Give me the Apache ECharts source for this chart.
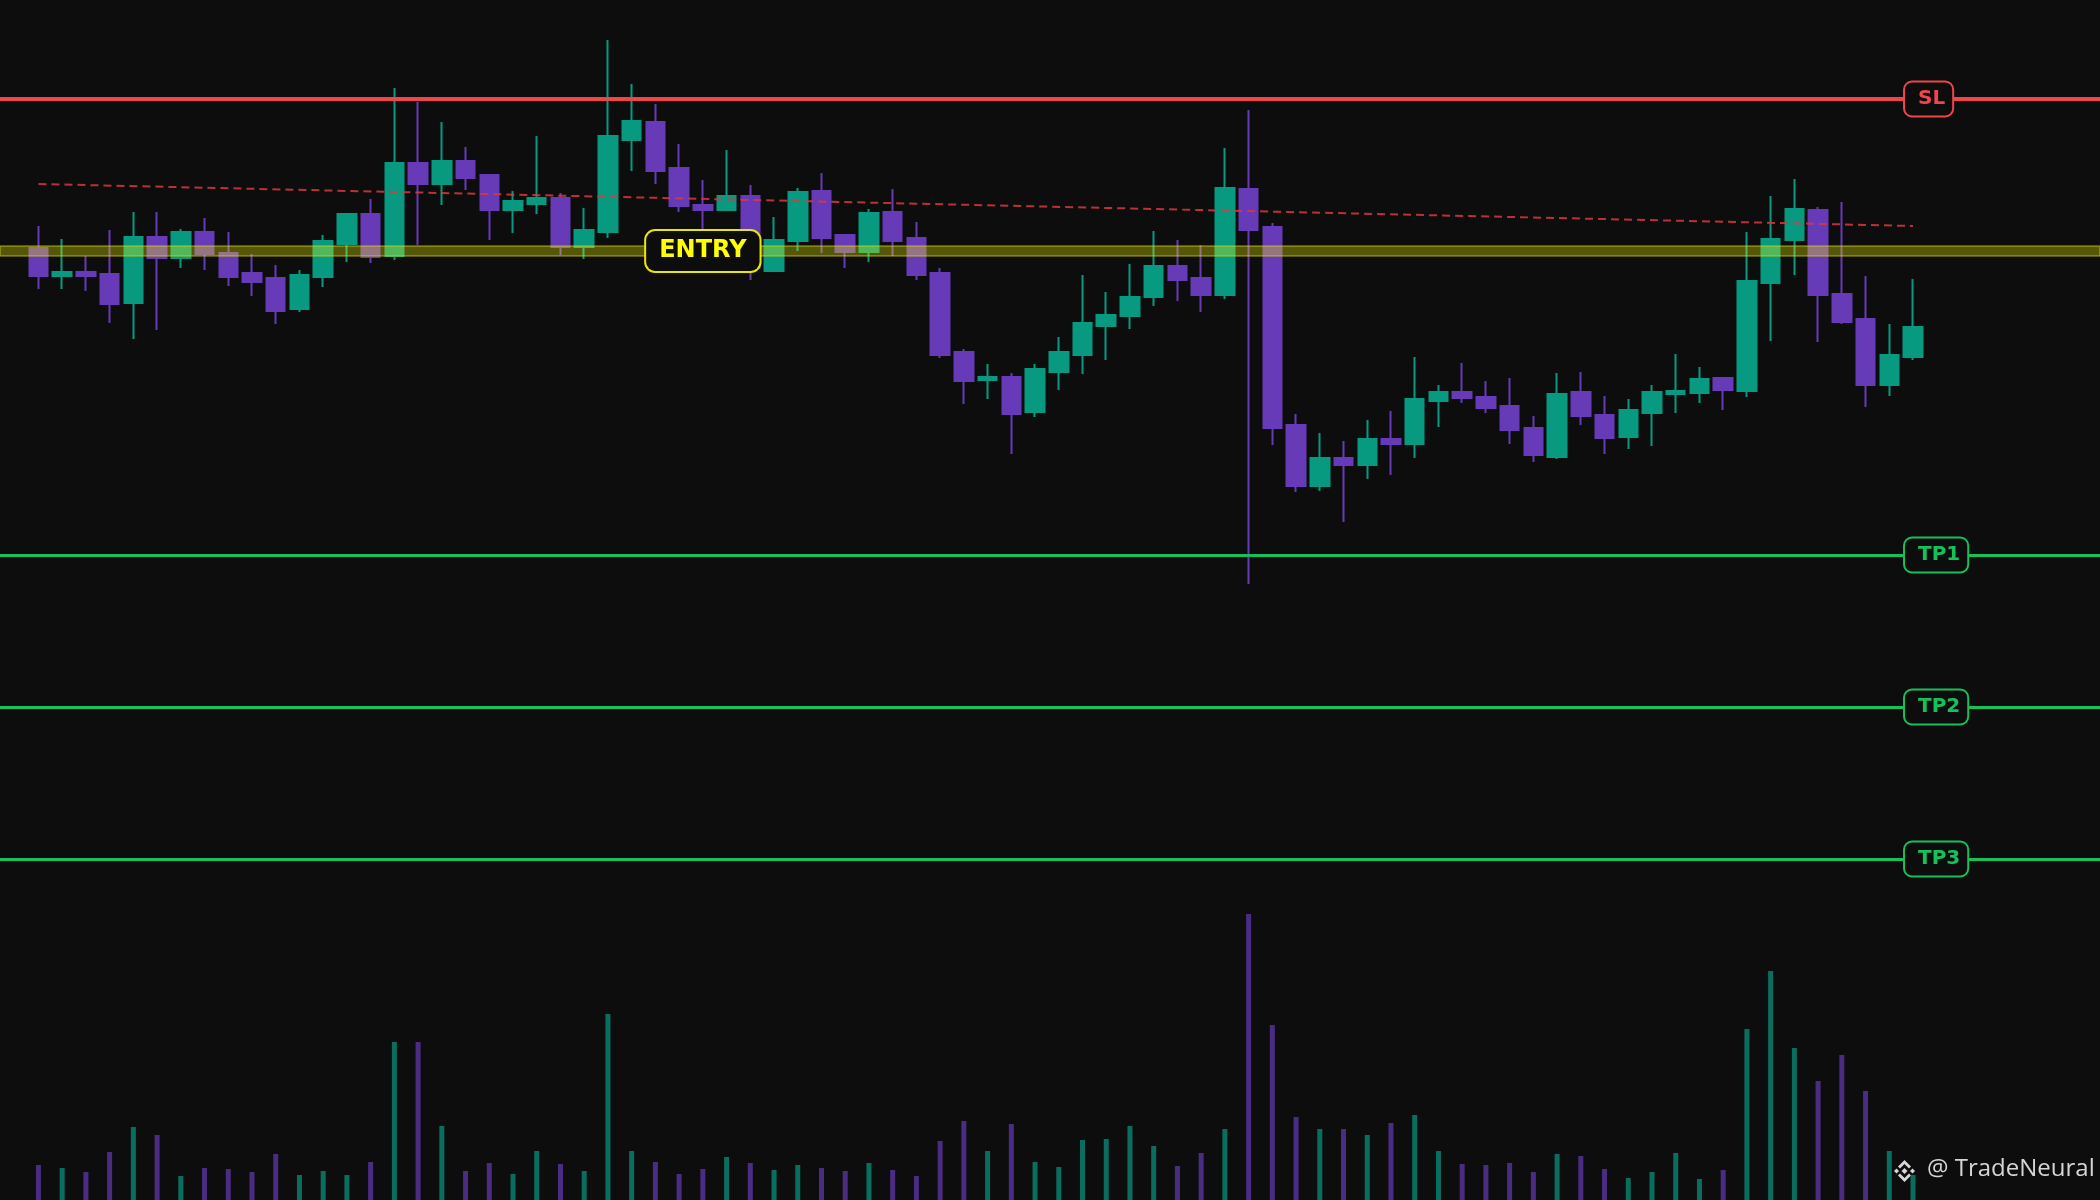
<!DOCTYPE html>
<html>
<head>
<meta charset="utf-8">
<script src="https://cdn.jsdelivr.net/npm/echarts@6/dist/echarts.min.js"></script>
<style>
  html, body { margin: 0; padding: 0; background: #0d0d0d; }
  #chart { width: 2100px; height: 1200px; }
</style>
</head>
<body>
<div id="chart"></div>
<script>
// candles: [open, close, low, high]
let ohlc = [
  [1.1752, 1.1724, 1.1711, 1.1774], [1.1724, 1.1728, 1.1711, 1.1761], [1.1728, 1.1724, 1.1709, 1.1744],
  [1.1726, 1.1696, 1.1677, 1.1770], [1.1697, 1.1763, 1.1661, 1.1788], [1.1763, 1.1742, 1.1670, 1.1788],
  [1.1742, 1.1768, 1.1732, 1.1771], [1.1768, 1.1746, 1.1730, 1.1782], [1.1747, 1.1723, 1.1714, 1.1768],
  [1.1727, 1.1718, 1.1704, 1.1746], [1.1722, 1.1689, 1.1676, 1.1735], [1.1691, 1.1725, 1.1688, 1.1730],
  [1.1723, 1.1759, 1.1713, 1.1765], [1.1756, 1.1786, 1.1738, 1.1787], [1.1786, 1.1743, 1.1737, 1.1801],
  [1.1744, 1.1837, 1.1740, 1.1912], [1.1837, 1.1816, 1.1755, 1.1898], [1.1816, 1.1839, 1.1795, 1.1878],
  [1.1839, 1.1822, 1.1810, 1.1853], [1.1825, 1.1790, 1.1760, 1.1826], [1.1790, 1.1799, 1.1767, 1.1809],
  [1.1796, 1.1802, 1.1786, 1.1864], [1.1802, 1.1753, 1.1745, 1.1807], [1.1753, 1.1770, 1.1741, 1.1792],
  [1.1768, 1.1864, 1.1762, 1.1960], [1.1860, 1.1879, 1.1829, 1.1916], [1.1878, 1.1829, 1.1816, 1.1896],
  [1.1832, 1.1794, 1.1788, 1.1856], [1.1795, 1.1790, 1.1769, 1.1820], [1.1790, 1.1804, 1.1790, 1.1850],
  [1.1804, 1.1732, 1.1720, 1.1815], [1.1729, 1.1760, 1.1729, 1.1783], [1.1759, 1.1808, 1.1749, 1.1812],
  [1.1809, 1.1762, 1.1747, 1.1827], [1.1765, 1.1748, 1.1732, 1.1765], [1.1748, 1.1787, 1.1738, 1.1791],
  [1.1788, 1.1759, 1.1744, 1.1811], [1.1762, 1.1725, 1.1720, 1.1778], [1.1727, 1.1645, 1.1642, 1.1732],
  [1.1648, 1.1619, 1.1596, 1.1651], [1.1620, 1.1623, 1.1601, 1.1636], [1.1623, 1.1586, 1.1546, 1.1627],
  [1.1588, 1.1631, 1.1583, 1.1636], [1.1628, 1.1648, 1.1610, 1.1663], [1.1645, 1.1677, 1.1626, 1.1725],
  [1.1674, 1.1685, 1.1640, 1.1708], [1.1684, 1.1703, 1.1671, 1.1736], [1.1703, 1.1734, 1.1694, 1.1769],
  [1.1734, 1.1720, 1.1699, 1.1760], [1.1722, 1.1705, 1.1688, 1.1755], [1.1705, 1.1812, 1.1701, 1.1852],
  [1.1811, 1.1770, 1.1416, 1.1890], [1.1773, 1.1572, 1.1555, 1.1777], [1.1575, 1.1514, 1.1508, 1.1586],
  [1.1514, 1.1542, 1.1509, 1.1567], [1.1542, 1.1535, 1.1478, 1.1559], [1.1535, 1.1561, 1.1521, 1.1580],
  [1.1561, 1.1556, 1.1525, 1.1589], [1.1556, 1.1601, 1.1542, 1.1643], [1.1599, 1.1608, 1.1573, 1.1615],
  [1.1608, 1.1602, 1.1597, 1.1637], [1.1603, 1.1592, 1.1587, 1.1619], [1.1594, 1.1570, 1.1556, 1.1622],
  [1.1572, 1.1545, 1.1538, 1.1584], [1.1543, 1.1606, 1.1541, 1.1627], [1.1608, 1.1584, 1.1575, 1.1628],
  [1.1585, 1.1562, 1.1546, 1.1604], [1.1563, 1.1590, 1.1551, 1.1601], [1.1587, 1.1608, 1.1554, 1.1615],
  [1.1606, 1.1609, 1.1587, 1.1646], [1.1607, 1.1621, 1.1597, 1.1633], [1.1622, 1.1610, 1.1590, 1.1623],
  [1.1609, 1.1719, 1.1603, 1.1768], [1.1717, 1.1761, 1.1659, 1.1804], [1.1760, 1.1791, 1.1725, 1.1821],
  [1.1790, 1.1705, 1.1658, 1.1793], [1.1706, 1.1678, 1.1676, 1.1798], [1.1681, 1.1615, 1.1593, 1.1724],
  [1.1615, 1.1645, 1.1604, 1.1676], [1.1643, 1.1673, 1.1640, 1.1721]
];

let volumes = [
  350, 320, 280, 480, 730, 650, 240, 320, 310, 280, 460, 250, 290, 250, 380, 1580,
  1580, 740, 290, 370, 260, 490, 360, 290, 1860, 490, 380, 260, 310, 430, 370, 300,
  350, 320, 290, 370, 300, 240, 590, 790, 490, 760, 380, 330, 600, 610, 740, 540,
  340, 470, 710, 2860, 1750, 830, 710, 710, 650, 770, 850, 490, 360, 350, 370, 280,
  460, 440, 310, 220, 280, 470, 210, 300, 1710, 2290, 1520, 1190, 1450, 1090, 490, 250
];

// trade levels
let entryPrice = 1.1749;
let slPrice = 1.1901;
let tpPrices = [1.1445, 1.1293, 1.1141];
let tpNames = ['TP1', 'TP2', 'TP3'];
let trendLine = [1.1816, 1.1774];

let upColor = '#089981', downColor = '#673ab7';
let slColor = '#f0454a', tpColor = '#14c15a';
let lastIdx = ohlc.length - 1;

let candleData = ohlc.map((d, i) => [i, d[0], d[1], d[2], d[3]]);
let volData = volumes.map((v, i) => [i, v]);

function levelTag(text, color) {
  return {
    show: true, position: 'inside', align: 'left', offset: [-8, 0],
    formatter: text, color: color, fontFamily: 'DejaVu Sans', fontWeight: 'bold',
    fontSize: 20, lineHeight: 20, padding: [7, 7, 6, 13],
    backgroundColor: '#0d0d0d', borderColor: color, borderWidth: 2, borderRadius: 7
  };
}

let levelLines = [{ yAxis: slPrice, lineStyle: { color: slColor, width: 4, type: 'solid' } }];
let levelTags = [{ coord: [lastIdx, slPrice], label: levelTag('SL', slColor) }];
tpPrices.forEach((p, i) => {
  levelLines.push({ yAxis: p, lineStyle: { color: tpColor, width: 3, type: 'solid' } });
  levelTags.push({ coord: [lastIdx, p], label: levelTag(tpNames[i], tpColor) });
});
levelLines.push([
  { coord: [0, trendLine[0]], lineStyle: { color: '#d8393f', width: 2, type: [8, 5], opacity: 0.85 } },
  { coord: [lastIdx, trendLine[1]] }
]);
levelTags.push({
  coord: [28, entryPrice],
  label: {
    show: true, position: 'inside', formatter: 'ENTRY', color: '#ffff00',
    fontFamily: 'DejaVu Sans', fontWeight: 'bold', fontSize: 24, lineHeight: 24,
    padding: [8, 13], backgroundColor: '#0d0d0d', borderColor: '#e8e800',
    borderWidth: 2, borderRadius: 9
  }
});

let xRange = { min: -1.62, max: 86.88 };

let chart = echarts.init(document.getElementById('chart'));
chart.setOption({
  animation: false,
  backgroundColor: '#0d0d0d',
  grid: [
    { left: 0, right: 0, top: 0, bottom: 0 },
    { left: 0, right: 0, bottom: 0, height: 300 }
  ],
  xAxis: [
    { type: 'value', gridIndex: 0, min: xRange.min, max: xRange.max, show: false },
    { type: 'value', gridIndex: 1, min: xRange.min, max: xRange.max, show: false }
  ],
  yAxis: [
    { type: 'value', gridIndex: 0, min: 1.08, max: 1.2, show: false, splitLine: { show: false } },
    { type: 'value', gridIndex: 1, min: 0, max: 3000, show: false, splitLine: { show: false } }
  ],
  series: [
    {
      type: 'bar',
      xAxisIndex: 1, yAxisIndex: 1,
      barWidth: 5,
      data: volData,
      itemStyle: {
        color: (p) => {
          let d = ohlc[p.dataIndex];
          return d[1] >= d[0] ? 'rgba(8,153,129,0.7)' : 'rgba(103,58,183,0.7)';
        }
      },
      z: 1
    },
    {
      type: 'candlestick',
      xAxisIndex: 0, yAxisIndex: 0,
      barWidth: 19,
      encode: { x: 0, y: [1, 2, 3, 4] },
      data: candleData,
      itemStyle: {
        color: upColor, color0: downColor,
        borderColor: upColor, borderColor0: downColor, borderWidth: 2
      },
      markArea: {
        silent: true, z: 4,
        itemStyle: { color: 'rgba(255,255,0,0.3)', borderColor: 'rgba(220,220,0,0.5)', borderWidth: 1.5 },
        data: [[{ yAxis: entryPrice + 0.0005 }, { yAxis: entryPrice - 0.0005 }]]
      },
      markLine: {
        silent: true, symbol: ['none', 'none'], label: { show: false }, z: 5,
        precision: 6,
        data: levelLines
      },
      markPoint: {
        silent: true, symbol: 'circle', symbolSize: 1, z: 10,
        itemStyle: { color: 'transparent' },
        data: levelTags
      },
      z: 2
    }
  ],
  graphic: [
    {
      type: 'group', left: 1894, top: 1160, z: 100,
      children: [
        { type: 'polygon', shape: { points: [[12, 9], [15, 12], [12, 15], [9, 12]] }, style: { fill: '#d6d6d6' } },
        { type: 'polygon', shape: { points: [[4, 9.5], [6.5, 12], [4, 14.5], [1.5, 12]] }, style: { fill: '#d6d6d6' } },
        { type: 'polygon', shape: { points: [[20, 9.5], [22.5, 12], [20, 14.5], [17.5, 12]] }, style: { fill: '#d6d6d6' } },
        { type: 'polygon', shape: { points: [[12, 1], [18.5, 7.5], [16.5, 9.5], [12, 5], [7.5, 9.5], [5.5, 7.5]] }, style: { fill: '#d6d6d6' } },
        { type: 'polygon', shape: { points: [[12, 23], [18.5, 16.5], [16.5, 14.5], [12, 19], [7.5, 14.5], [5.5, 16.5]] }, style: { fill: '#d6d6d6' } }
      ]
    },
    {
      type: 'text', left: 1927, top: 1157, z: 100,
      style: { text: '@ TradeNeural', fill: '#d6d6d6', font: '24px "Open Sans"' }
    }
  ]
});
</script>
</body>
</html>
